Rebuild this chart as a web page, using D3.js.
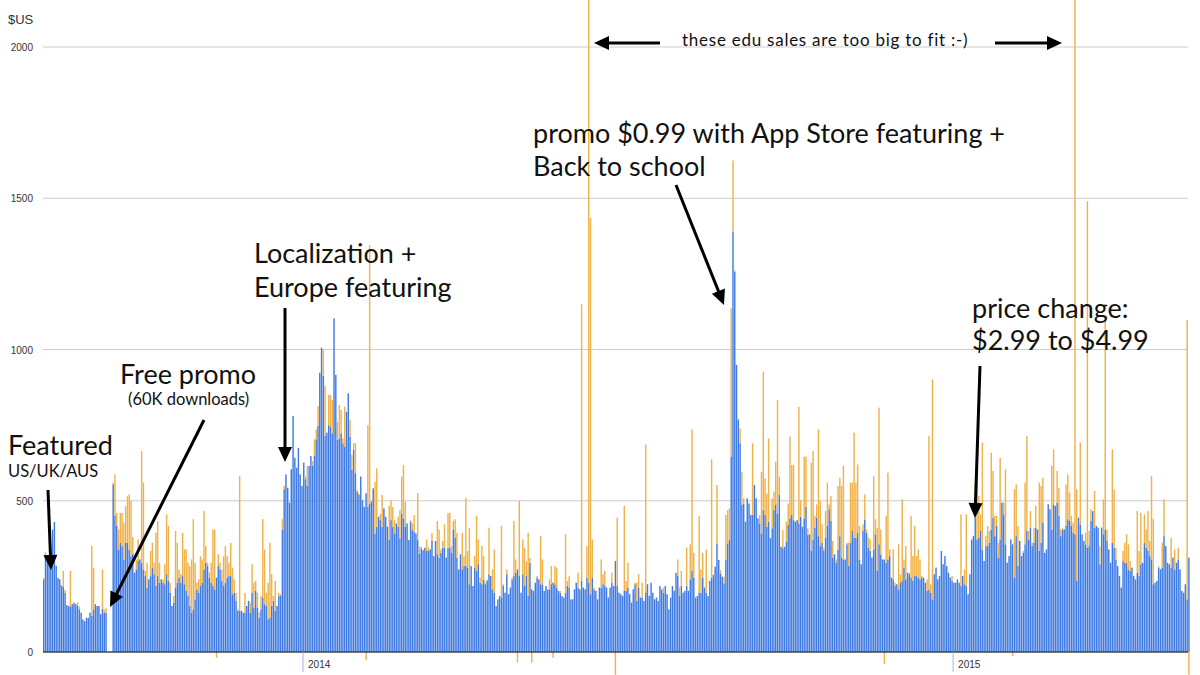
<!DOCTYPE html>
<html>
<head>
<meta charset="utf-8">
<script src="https://cdn.jsdelivr.net/npm/d3@7"></script>
<style>
body { margin: 0; background: #fff; }
svg { display: block; }
.note { font-family: Lato, "Open Sans", sans-serif; fill: #111; }
.axisText { font-family: Arial, "Liberation Sans", sans-serif; font-size: 10px; fill: #333; }
</style>
</head>
<body>
<div class="chart"></div>
<script>
// daily sales, first day below, one value per day
var startDay = "2013-08-08";

// app store sales ($US) - blue
var appSales = [
  240,320,305,300,310,405,430,285,245,240,220,215,195,155,152,150,158,163,158,152,141,130,108,102,113,113,130,120,141,158,152,152,125,143,130,130,0,0,0,554,450,417,339,361,350,306,361,361,339,317,325,
  262,273,301,306,295,273,251,213,240,251,279,257,218,251,229,240,229,224,257,235,196,152,163,213,229,246,229,251,224,202,185,152,130,141,174,207,196,218,229,273,295,284,246,229,218,207,246,284,273,235,218,229,246,251,251,
  191,196,169,136,136,136,130,130,152,169,130,196,147,202,147,113,141,180,158,152,108,113,152,169,136,152,185,185,405,538,587,543,494,604,780,642,609,675,587,549,626,571,549,615,648,615,648,703,747,923,1006,913,714,725,
  750,745,723,1103,916,701,706,723,690,679,794,855,712,602,668,591,530,519,580,502,480,525,480,491,497,541,392,414,447,436,414,475,447,414,370,436,414,392,425,414,376,458,441,414,425,370,431,403,398,392,370,326,343,337,
  345,334,334,339,367,317,367,323,312,328,345,345,312,345,345,328,405,378,312,273,323,273,284,284,279,224,284,218,279,268,290,229,224,240,224,235,257,251,207,196,152,174,185,180,218,196,257,191,213,240,251,262,273,251,
  196,257,218,251,185,295,207,202,229,246,240,224,224,202,218,207,207,224,229,224,213,202,196,185,180,196,218,213,174,174,207,229,213,207,235,213,207,246,229,191,246,207,202,174,213,213,224,218,213,180,213,229,218,301,
  218,196,191,185,202,202,213,191,163,207,224,169,213,180,180,169,196,224,185,229,196,174,180,169,218,207,196,218,191,141,180,218,202,262,251,185,218,196,202,218,202,240,268,246,180,185,196,196,246,213,196,185,235,246,
  255,282,359,304,260,249,227,304,359,370,646,1390,1257,949,767,690,486,491,431,508,491,453,453,552,508,442,425,392,469,453,414,431,376,409,469,486,458,519,348,343,348,365,420,442,453,436,431,436,425,447,414,442,480,387,
  389,334,372,411,444,383,350,361,334,378,417,472,433,312,323,295,339,383,312,306,306,356,284,361,400,378,378,394,306,290,400,438,394,345,334,312,339,389,268,356,323,306,306,295,306,317,246,240,218,224,207,229,235,279,
  240,262,257,246,235,251,251,246,240,246,246,229,202,207,196,174,257,279,240,251,334,290,317,284,262,246,235,229,229,240,229,218,251,224,218,191,257,372,383,444,372,378,400,339,301,350,350,361,405,444,383,417,312,372,
  494,455,356,295,317,372,356,246,383,284,367,317,328,356,400,372,411,350,361,411,405,334,361,428,328,339,488,472,405,488,483,494,450,383,405,405,417,439,433,417,394,389,235,444,422,389,367,356,345,350,433,466,411,417,
  411,290,411,389,405,367,339,295,361,345,306,284,251,213,301,295,295,273,268,279,251,240,262,251,290,295,361,345,334,317,306,224,229,235,279,273,279,383,350,295,290,279,312,273,295,306,273,202,196,224,174,312
];

// edu sales ($US) stacked on top - orange, negative = refunds
var eduSales = [
  6,10,0,0,0,0,0,0,0,0,0,53,10,0,0,118,0,0,0,12,10,0,0,0,0,0,0,230,138,0,0,0,0,130,10,15,0,0,0,6,137,43,66,99,110,121,121,154,182,183,55,
  0,33,71,0,369,287,17,82,0,83,82,38,176,182,66,0,11,66,198,182,33,0,22,187,132,27,28,143,115,137,110,132,176,298,121,22,44,99,77,193,55,11,16,66,187,198,-19,39,22,38,99,121,71,44,110,
  88,44,27,5,446,0,0,66,0,0,33,94,82,33,49,17,44,259,181,44,121,248,105,16,99,0,11,6,34,11,0,0,0,0,0,0,0,0,0,0,0,11,66,0,0,16,55,33,66,0,0,87,166,0,
  100,105,110,0,0,60,111,77,16,132,0,0,55,49,22,99,5,5,0,0,0,-26,270,854,0,0,170,193,0,21,105,0,0,0,113,66,66,44,0,33,93,122,177,83,0,0,5,22,55,0,155,22,5,0,
  0,38,11,0,27,0,0,110,93,11,22,77,0,115,115,22,28,61,82,0,0,121,33,226,55,187,0,0,38,182,82,17,126,77,5,5,154,0,66,143,0,0,0,237,6,0,16,0,0,6,182,44,-35,248,
  0,115,127,49,209,16,-35,0,0,5,0,159,82,0,0,0,33,60,-19,60,66,0,6,0,0,193,17,38,0,0,0,0,49,0,915,0,0,104,2371,1244,126,6,0,0,0,93,33,50,0,0,0,33,0,-75,
  226,0,0,0,281,33,82,0,0,0,5,60,44,0,49,0,490,0,0,0,0,0,0,0,0,0,17,0,0,0,0,0,0,0,55,28,50,0,0,127,0,116,468,82,0,0,254,77,82,0,143,0,0,391,
  0,0,193,0,11,0,22,149,110,105,490,235,5,0,5,49,110,17,0,0,0,0,237,0,0,0,28,204,458,121,110,275,0,99,61,143,375,61,0,60,0,66,71,270,165,182,0,0,386,56,0,204,166,22,
  0,292,292,39,44,353,149,61,11,88,143,16,83,55,0,11,210,193,237,309,0,5,77,199,160,347,182,226,111,0,22,83,11,33,38,0,243,50,143,452,82,0,-40,155,287,22,0,99,11,0,149,28,270,27,
  110,0,5,204,82,166,66,93,66,5,0,0,38,507,28,727,0,0,0,0,0,0,0,0,0,0,16,0,0,0,0,237,0,49,237,0,0,0,0,116,292,138,55,353,0,33,66,39,254,154,67,33,49,270,
  0,39,248,0,0,0,-13,292,171,133,0,0,6,204,314,28,55,11,50,72,0,226,188,148,0,0,0,0,210,182,0,104,93,22,6,0,137,148,94,33,34,2211,303,0,270,0,0,38,1145,50,39,0,121,0,
  0,60,0,116,700,38,0,0,309,193,39,0,0,0,33,66,94,83,33,0,0,0,204,83,170,0,94,60,132,50,276,215,0,0,5,0,82,122,0,0,0,99,0,66,0,39,0,0,0,0,923,-75
];

var yTickValues = [0, 500, 1000, 1500, 2000];
var yearTicks = ["2014-01-01", "2015-01-01"];
var yearLabels = ["2014", "2015"];

var svgWidth = 1200;
var svgHeight = 675;
var plot = { left: 43, right: 1190, top: 47, bottom: 652 };

var parseDay = d3.timeParse("%Y-%m-%d");
var start = parseDay(startDay);
var days = appSales.map(function(v, i) { return d3.timeDay.offset(start, i); });

var x = d3.scaleTime()
    .domain([start, d3.timeDay.offset(start, appSales.length)])
    .range([plot.left, plot.right]);
var y = d3.scaleLinear()
    .domain([0, 2000])
    .range([plot.bottom, plot.top]);

var step = x(days[1]) - x(days[0]);
var barW = step - 0.35;

var svg = d3.select(".chart").append("svg")
    .attr("width", svgWidth)
    .attr("height", svgHeight);

svg.append("rect").attr("width", svgWidth).attr("height", svgHeight).attr("fill", "#fff");

// gridlines
svg.selectAll(".grid")
    .data(yTickValues.filter(function(d) { return d > 0; }))
    .enter().append("line")
    .attr("x1", plot.left).attr("x2", 1188)
    .attr("y1", function(d) { return y(d); })
    .attr("y2", function(d) { return y(d); })
    .attr("stroke", "#cccccc")
    .attr("stroke-width", 1);

// y labels
svg.selectAll(".ylab")
    .data(yTickValues)
    .enter().append("text")
    .attr("class", "axisText")
    .attr("x", 33)
    .attr("y", function(d) { return y(d) + 4; })
    .attr("text-anchor", "end")
    .text(function(d) { return d; });

svg.append("text")
    .attr("class", "axisText")
    .attr("x", 8).attr("y", 24)
    .style("font-size", "13px")
    .text("$US");

var bars = svg.append("g");

// blue bars
bars.selectAll(".app")
    .data(appSales)
    .enter().append("rect")
    .attr("x", function(d, i) { return x(days[i]); })
    .attr("y", function(d) { return y(d); })
    .attr("width", barW)
    .attr("height", function(d) { return y(0) - y(d); })
    .attr("fill", "#3f7be3");

// orange bars on top (or below zero for refunds)
bars.selectAll(".edu")
    .data(eduSales)
    .enter().append("rect")
    .attr("x", function(d, i) { return x(days[i]); })
    .attr("y", function(d, i) {
        if (d < 0) return y(0);
        return y(appSales[i] + d);
    })
    .attr("width", barW)
    .attr("height", function(d, i) {
        if (d < 0) return y(d) - y(0);
        return y(appSales[i]) - y(appSales[i] + d);
    })
    .attr("fill", "#f0b24a");

// baseline
svg.append("line")
    .attr("x1", plot.left).attr("x2", 1188)
    .attr("y1", y(0)).attr("y2", y(0))
    .attr("stroke", "#444").attr("stroke-width", 1.5);

// year ticks
yearTicks.forEach(function(t, i) {
    var xx = x(parseDay(t));
    svg.append("line")
        .attr("x1", xx).attr("x2", xx)
        .attr("y1", y(0)).attr("y2", y(0) + 20)
        .attr("stroke", "#9db6ee").attr("stroke-width", 1);
    svg.append("text")
        .attr("class", "axisText")
        .attr("x", xx + 5).attr("y", y(0) + 16)
        .text(yearLabels[i]);
});

// annotations
var notes = [
    { text: "Featured", x: 8, y: 455, size: 27 },
    { text: "US/UK/AUS", x: 8, y: 477, size: 16.5 },
    { text: "Free promo", x: 120, y: 384, size: 27 },
    { text: "(60K downloads)", x: 128, y: 405, size: 16.5 },
    { text: "Localization +", x: 254, y: 263, size: 27 },
    { text: "Europe featuring", x: 254, y: 297, size: 27 },
    { text: "promo $0.99 with App Store featuring +", x: 533, y: 143, size: 27 },
    { text: "Back to school", x: 533, y: 176, size: 27 },
    { text: "price change:", x: 972, y: 318, size: 27 },
    { text: "$2.99 to $4.99", x: 972, y: 350, size: 27 },
    { text: "these edu sales are too big to fit :-)", x: 682, y: 46, size: 17, spacing: 0.75 }
];

svg.selectAll(".note")
    .data(notes)
    .enter().append("text")
    .attr("class", "note")
    .attr("x", function(d) { return d.x; })
    .attr("y", function(d) { return d.y; })
    .style("font-size", function(d) { return d.size + "px"; })
    .style("letter-spacing", function(d) { return (d.spacing || 0) + "px"; })
    .text(function(d) { return d.text; });

var arrows = [
    [48, 490, 51, 570],
    [204, 420, 110, 607],
    [285, 308, 285, 462],
    [676, 185, 724, 305],
    [980, 366, 975, 518],
    [660, 43, 594, 43],
    [995, 43, 1062, 43]
];

arrows.forEach(function(a) {
    var dx = a[2] - a[0], dy = a[3] - a[1];
    var len = Math.sqrt(dx * dx + dy * dy);
    var ux = dx / len, uy = dy / len;
    var headLen = 15, headW = 7;
    var bx = a[2] - ux * headLen, by = a[3] - uy * headLen;
    svg.append("line")
        .attr("x1", a[0]).attr("y1", a[1])
        .attr("x2", bx + ux * 2).attr("y2", by + uy * 2)
        .attr("stroke", "#000").attr("stroke-width", 3);
    svg.append("path")
        .attr("d", "M" + a[2] + "," + a[3] +
            "L" + (bx - uy * headW) + "," + (by + ux * headW) +
            "L" + (bx + uy * headW) + "," + (by - ux * headW) + "Z")
        .attr("fill", "#000");
});
</script>
</body>
</html>
